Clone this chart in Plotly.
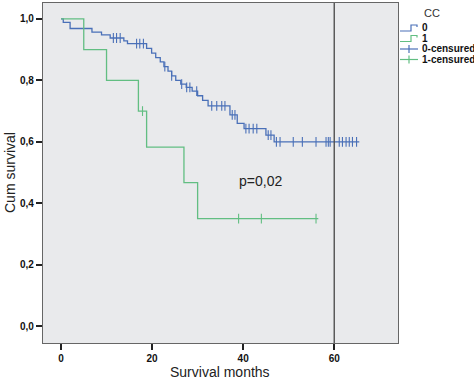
import numpy as np
import plotly.graph_objects as go

# ---- data ----
blue_event_times = [0.5, 2.0, 6.8, 8.9, 10.8, 13.8, 14.6, 18.8, 19.9, 20.8, 21.8, 22.6,
                    23.5, 24.3, 25.2, 26.3, 27.5, 28.8, 30.0, 31.1, 32.3, 37.1, 38.7,
                    40.2, 45.0, 46.8]
blue_surv = [0.989, 0.969, 0.957, 0.948, 0.938, 0.929, 0.920, 0.904, 0.889, 0.874, 0.860,
             0.845, 0.830, 0.815, 0.800, 0.788, 0.777, 0.765, 0.750, 0.735, 0.717, 0.688,
             0.660, 0.643, 0.622, 0.600]
blue_censor_times = [11.5, 12.2, 13.0, 16.6, 17.3, 18.1, 22.8, 24.3, 26.5, 27.6, 28.3, 29.8,
                     33.1, 34.2, 35.3, 36.0, 37.6, 38.2, 40.6, 41.3, 42.2, 43.0, 45.5, 46.1,
                     47.3, 48.1, 51.0, 53.0, 56.0, 58.2, 58.7, 59.1, 61.1, 61.8, 62.6, 63.3,
                     64.0, 64.9]
blue_end = 65.5

green_event_times = [5.0, 10.0, 17.0, 18.8, 27.0, 30.0]
green_surv = [0.9, 0.8, 0.7, 0.583, 0.467, 0.35]
green_censor_times = [17.9, 39.0, 44.0, 56.0]
green_end = 56.5

x_ticks = [0, 20, 40, 60]
y_ticks = [0.0, 0.2, 0.4, 0.6, 0.8, 1.0]
ref_line_month = 60
p_text = "p=0,02"

BLUE = "#4A70B8"
GREEN = "#62BE82"


def step_xy(times, surv, end):
    xs = [0.0] + list(times) + [end]
    ys = [1.0] + list(surv) + [surv[-1]]
    return xs, ys


def surv_at(times, surv, t):
    allt = np.array([0.0] + list(times))
    alls = np.array([1.0] + list(surv))
    idx = np.searchsorted(allt, np.asarray(t), side="right") - 1
    return alls[idx]


fig = go.Figure()
for times, surv, end, cens, col in [
    (blue_event_times, blue_surv, blue_end, blue_censor_times, BLUE),
    (green_event_times, green_surv, green_end, green_censor_times, GREEN),
]:
    xs, ys = step_xy(times, surv, end)
    fig.add_trace(go.Scatter(x=xs, y=ys, mode="lines", line=dict(color=col, width=1.3, shape="hv"),
                             showlegend=False, hoverinfo="skip"))
    fig.add_trace(go.Scatter(x=cens, y=surv_at(times, surv, cens), mode="markers",
                             marker=dict(symbol="line-ns-open", size=7, color=col,
                                         line=dict(color=col, width=1.1)),
                             showlegend=False, hoverinfo="skip"))

# plot area in pixels: x 43..398, y 3..343
L, R, T, B = 43, 398, 3, 343
W, H = 474, 379


def px(x):
    return (x - L) / (R - L)


def py(y):
    return (B - y) / (B - T)


FONT = "Arial, Liberation Sans"
shapes = [dict(type="line", xref="x", yref="paper", x0=ref_line_month, x1=ref_line_month,
               y0=0, y1=1, line=dict(color="#505050", width=1.4))]
annotations = [
    dict(text=p_text, x=43.9, y=0.472, xref="x", yref="y", showarrow=False,
         font=dict(family=FONT, size=14, color="#222")),
    dict(text="Cum survival", x=px(10), y=py(173), xref="paper", yref="paper", showarrow=False,
         xanchor="center", yanchor="middle", textangle=-90,
         font=dict(family=FONT, size=14, color="#222")),
    dict(text="Survival months", x=px(220), y=py(371.5), xref="paper", yref="paper", showarrow=False,
         xanchor="center", yanchor="middle", font=dict(family=FONT, size=14, color="#222")),
    dict(text="CC", x=px(432), y=py(13), xref="paper", yref="paper", showarrow=False,
         xanchor="center", yanchor="middle", font=dict(family=FONT, size=11, color="#333")),
]

legend_items = [("0", BLUE, "step", 28), ("1", GREEN, "step", 38.5),
                ("0-censured", BLUE, "cross", 49), ("1-censured", GREEN, "cross", 59.5)]
for label, col, kind, yy in legend_items:
    if kind == "step":
        path = (f"M {px(400)},{py(yy+3)} L {px(411)},{py(yy+3)} L {px(411)},{py(yy-3)} "
                f"L {px(417)},{py(yy-3)} L {px(417)},{py(yy-1)}")
        shapes.append(dict(type="path", xref="paper", yref="paper", path=path,
                           line=dict(color=col, width=1.2)))
    else:
        shapes.append(dict(type="line", xref="paper", yref="paper", x0=px(400), x1=px(418),
                           y0=py(yy), y1=py(yy), line=dict(color=col, width=1.2)))
        shapes.append(dict(type="line", xref="paper", yref="paper", x0=px(409), x1=px(409),
                           y0=py(yy - 4), y1=py(yy + 4), line=dict(color=col, width=1.2)))
    annotations.append(dict(text=f"<b>{label}</b>", x=px(420), y=py(yy), xref="paper", yref="paper",
                            xanchor="left", yanchor="middle", showarrow=False,
                            font=dict(family=FONT, size=10, color="#111")))

fig.update_layout(
    width=W, height=H,
    margin=dict(l=L, r=W - R, t=T, b=H - B),
    paper_bgcolor="white", plot_bgcolor="#E9EAEC",
    separators=",.",
    showlegend=False,
    shapes=shapes, annotations=annotations,
    xaxis=dict(range=[-3.95, 74], tickvals=x_ticks, ticks="outside", ticklen=6, tickwidth=1.5,
               tickcolor="#222", showgrid=False, zeroline=False, showline=True, linecolor="#666",
               linewidth=1.2, mirror=True,
               tickfont=dict(family=FONT, size=10, color="#111", weight="bold")),
    yaxis=dict(range=[-0.055, 1.052], tickvals=y_ticks, tickformat=".1f", ticks="outside", ticklen=6,
               tickwidth=1.5, tickcolor="#222", showgrid=False, zeroline=False, showline=True,
               linecolor="#666", linewidth=1.2, mirror=True,
               tickfont=dict(family=FONT, size=10, color="#111", weight="bold")),
)

fig.write_html("out.html", config={"displayModeBar": False},
               post_script="document.body.style.margin='0';document.body.style.padding='0';")
